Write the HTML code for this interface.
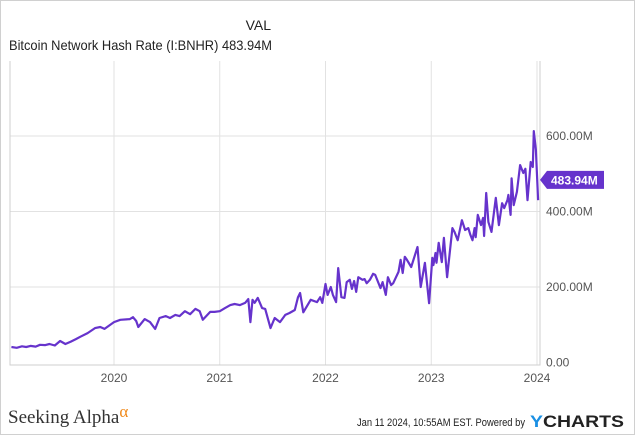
<!DOCTYPE html>
<html><head><meta charset="utf-8"><style>
body{margin:0;background:#fff;width:635px;height:435px;overflow:hidden;font-family:"Liberation Sans",sans-serif}
svg text{font-family:"Liberation Sans",sans-serif}
</style></head><body>
<svg id="c" width="635" height="435">
<rect x="0.5" y="0.5" width="634" height="434" fill="none" stroke="#d0d0d0"/>
<text x="271" y="30" font-size="14" text-anchor="end" fill="#222">VAL</text>
<text x="9" y="50" font-size="14" fill="#222" textLength="263" lengthAdjust="spacingAndGlyphs">Bitcoin Network Hash Rate (I:BNHR)  483.94M</text>
<g id="grid"></g>
<g id="series"></g>
<g id="labels"></g>
<text x="8" y="423" font-size="19" fill="#333" style="font-family:'Liberation Serif',serif">Seeking Alpha<tspan fill="#f08a1c" font-size="17" dy="-6">α</tspan></text>
<text x="357" y="426" font-size="11" fill="#222" textLength="168" lengthAdjust="spacingAndGlyphs">Jan 11 2024, 10:55AM EST.  Powered by</text>
<text x="530" y="427" font-size="17" font-weight="bold" fill="#222" textLength="94" lengthAdjust="spacingAndGlyphs"><tspan fill="#1a8fe3">Y</tspan>CHARTS</text>
</svg>
<script>
const yearTicks=[2020,2021,2022,2023,2024];
const valueTicks=[0,200,400,600];
const valueTickLabels=["0.00","200.00M","400.00M","600.00M"];
const dates=[2019.03,2019.08,2019.13,2019.17,2019.21,2019.26,2019.30,2019.35,2019.39,2019.44,2019.49,2019.54,2019.59,2019.64,2019.68,2019.75,2019.82,2019.87,2019.91,2020.00,2020.06,2020.15,2020.18,2020.21,2020.23,2020.29,2020.34,2020.39,2020.43,2020.49,2020.53,2020.58,2020.62,2020.67,2020.72,2020.77,2020.81,2020.84,2020.91,2020.95,2021.00,2021.05,2021.10,2021.14,2021.19,2021.24,2021.27,2021.29,2021.31,2021.33,2021.36,2021.40,2021.43,2021.48,2021.52,2021.57,2021.62,2021.66,2021.71,2021.74,2021.76,2021.79,2021.86,2021.92,2021.95,2021.97,2022.00,2022.02,2022.05,2022.07,2022.10,2022.12,2022.15,2022.18,2022.20,2022.23,2022.25,2022.27,2022.29,2022.31,2022.35,2022.37,2022.39,2022.42,2022.45,2022.47,2022.52,2022.54,2022.57,2022.59,2022.62,2022.64,2022.69,2022.71,2022.73,2022.75,2022.77,2022.81,2022.87,2022.90,2022.94,2022.98,2023.01,2023.02,2023.04,2023.05,2023.07,2023.10,2023.12,2023.15,2023.20,2023.22,2023.25,2023.29,2023.32,2023.35,2023.37,2023.39,2023.41,2023.42,2023.44,2023.47,2023.49,2023.50,2023.52,2023.54,2023.57,2023.61,2023.64,2023.67,2023.69,2023.72,2023.73,2023.75,2023.76,2023.78,2023.81,2023.84,2023.87,2023.89,2023.91,2023.94,2023.96,2023.97,2023.99,2024.01];
const values=[41,39,43,41,44,42,47,46,49,45,57,49,55,62,68,78,91,94,89,107,113,115,120,110,94,115,107,89,118,123,118,126,123,136,128,142,136,113,134,134,136,144,152,155,152,158,168,107,166,158,171,144,142,91,118,107,126,131,139,173,184,133,166,160,173,158,208,179,200,179,160,250,173,171,213,219,195,216,187,226,219,221,210,219,235,232,197,213,179,226,205,210,240,272,237,280,272,253,306,200,264,157,277,258,290,264,317,266,330,226,356,346,324,377,351,356,338,324,356,332,391,364,383,335,449,372,346,436,364,422,409,430,444,391,488,417,452,523,502,513,430,531,518,613,563,430];
const lastValue="483.94M";
const L=10,R=540,T=61,B=365;
const xs=d=>114+(d-2020)*105.75;
const ys=v=>362.5-v*0.3775;
const NS="http://www.w3.org/2000/svg";
function mk(tag,attrs,parent){const e=document.createElementNS(NS,tag);for(const k in attrs)e.setAttribute(k,attrs[k]);parent.appendChild(e);return e;}
const grid=document.getElementById('grid'),lab=document.getElementById('labels'),ser=document.getElementById('series');
yearTicks.forEach(y=>{
 const l=mk('line',{x1:xs(y),x2:xs(y),y1:T,y2:B,stroke:'#e2e2e2'},grid);
 
 
 const t=mk('text',{x:xs(y),y:382,'font-size':12,'text-anchor':'middle',fill:'#555'},lab);
 t.textContent=y;
 
 
});
valueTicks.forEach((v,i)=>{
 if(v>0){const l=mk('line',{x1:L,x2:R,y1:ys(v),y2:ys(v),stroke:'#e2e2e2'},grid);
 
 }
 const t=mk('text',{x:546,y:ys(v)+4,'font-size':12,fill:'#555'},lab);
 t.textContent=valueTickLabels[i];
 
 
});
const ax=mk('path',{d:`M${L},${T}V${B}H${R}V${T}`,fill:'none',stroke:'#cfcfcf'},grid);


const p=mk('polyline',{points:dates.map((d,i)=>xs(d).toFixed(1)+','+ys(values[i]).toFixed(1)).join(' '),fill:'none',stroke:'#6633cc','stroke-width':2.2,'stroke-linejoin':'round'},ser);


const ly=ys(483.94);
const tag=mk('path',{d:`M540,${ly}L547,${ly-9}H604V${ly+9}H547Z`,fill:'#6633cc'},lab);


const tt=mk('text',{x:551,y:ly+4.5,'font-size':12,'font-weight':'bold',fill:'#fff'},lab);
tt.textContent=lastValue;


</script>
</body></html>
